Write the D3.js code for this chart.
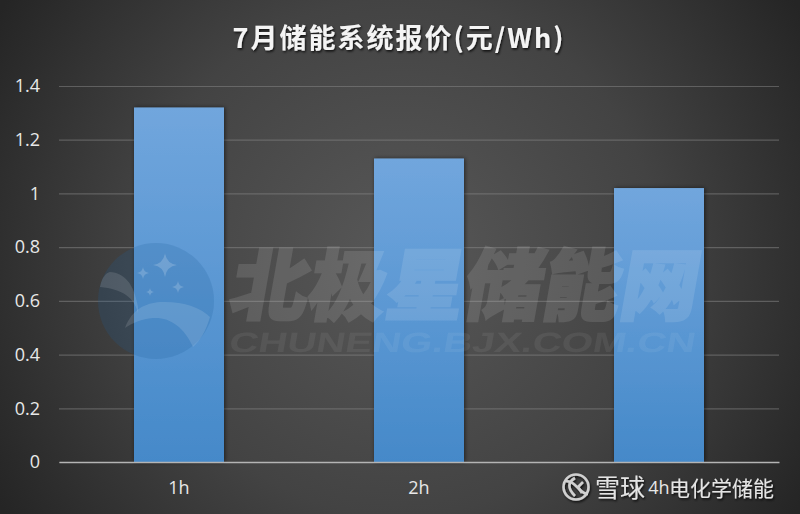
<!DOCTYPE html>
<html><head><meta charset="utf-8">
<script src="https://cdn.jsdelivr.net/npm/d3@7/dist/d3.min.js"></script>
<style>html,body{margin:0;padding:0;background:#2b2b2b}svg{display:block}text{font-family:"Noto Sans CJK SC","Noto Sans",sans-serif}</style>
</head><body><svg id="c" width="800" height="514"></svg>
<script>
const categories = ["1h","2h","4h"];
const values = [1.32,1.13,1.02];
const yTicks = [0,0.2,0.4,0.6,0.8,1,1.2,1.4];
const titleText = "7月储能系统报价(元/Wh)";
const wmMain = "北极星储能网";
const wmSub = "CHUNENG.BJX.COM.CN";
const footBrand = "雪球";
const footUser = "电化学储能";

const W=800,H=514,m={l:59,r:21,t:86,b:52};
const svg=d3.select("#c");
const defs=svg.append("defs");
const rg=defs.append("radialGradient").attr("id","bg").attr("gradientUnits","userSpaceOnUse")
 .attr("cx",400).attr("cy",257).attr("r",470);
rg.append("stop").attr("offset","0").attr("stop-color","#585858");
rg.append("stop").attr("offset","0.55").attr("stop-color","#434343");
rg.append("stop").attr("offset","1").attr("stop-color","#252525");
const bg=defs.append("linearGradient").attr("id","bar").attr("x1",0).attr("x2",0).attr("y1",0).attr("y2",1);
bg.append("stop").attr("offset","0").attr("stop-color","#71a6dd");
bg.append("stop").attr("offset","1").attr("stop-color","#4589c9");
const sh=defs.append("filter").attr("id","sh").attr("x","-20%").attr("y","-10%").attr("width","140%").attr("height","120%");
sh.append("feDropShadow").attr("dx",1).attr("dy",0).attr("stdDeviation",2).attr("flood-color","#000").attr("flood-opacity",0.55);
const ts=defs.append("filter").attr("id","ts").attr("x","-10%").attr("y","-20%").attr("width","120%").attr("height","150%");
ts.append("feDropShadow").attr("dx",1).attr("dy",1.5).attr("stdDeviation",1).attr("flood-color","#000").attr("flood-opacity",0.8);

svg.append("rect").attr("width",W).attr("height",H).attr("fill","url(#bg)");

const x=d3.scaleBand().domain(categories).range([m.l,W-m.r]).paddingInner(0.625).paddingOuter(0.3125);
const y=d3.scaleLinear().domain([0,1.4]).range([H-m.b,m.t]);

const gy=svg.append("g").attr("transform",`translate(${m.l},0)`)
 .call(d3.axisLeft(y).tickValues(yTicks).tickSize(-(W-m.l-m.r)).tickFormat(d=>String(d)));
gy.select(".domain").remove();
gy.selectAll("line").attr("stroke","#8a8a8a").attr("stroke-width",1.2).attr("stroke-opacity",0.5);
gy.selectAll("text").attr("x",-19).attr("fill","#e8e8e8").attr("font-size",18).style("font-family","'Open Sans'");

svg.append("g").selectAll("rect").data(values).join("rect")
 .attr("x",(d,i)=>x(categories[i])).attr("width",x.bandwidth())
 .attr("y",d=>y(d)).attr("height",d=>y(0)-y(d))
 .attr("fill","url(#bar)").attr("filter","url(#sh)");

const gx=svg.append("g").attr("transform",`translate(0,${H-m.b})`).call(d3.axisBottom(x).tickSize(0));
gx.select(".domain").attr("stroke","#b4b4b4").attr("stroke-width",1.6);
gx.selectAll("text").attr("y",19).attr("dy","0.71em").attr("fill","#e8e8e8").attr("font-size",18)
 .style("font-family","'Open Sans'");

svg.append("text").attr("x",399).attr("y",48).attr("text-anchor","middle").attr("fill","#f4f4f4")
 .attr("font-size",27).attr("font-weight",700).attr("letter-spacing",2).attr("filter","url(#ts)").text(titleText);

// watermark
const wm=svg.append("g").attr("pointer-events","none");
wm.append("text").attr("transform","translate(227,314) skewX(-10)")
 .attr("fill","#fff").attr("stroke","#fff").attr("stroke-width",2.2).attr("opacity",0.11).attr("font-size",78).attr("font-weight",900)
 .attr("textLength",468).attr("lengthAdjust","spacingAndGlyphs").text(wmMain);
wm.append("text").attr("transform","translate(228,352) skewX(-10)")
 .attr("fill","#fff").attr("opacity",0.06).attr("font-size",28).attr("font-weight",700)
 .style("font-family","'Liberation Sans'")
 .attr("textLength",466).attr("lengthAdjust","spacingAndGlyphs").text(wmSub);
const logo=wm.append("g").attr("transform","translate(156,301)");
logo.append("circle").attr("r",58).attr("fill","#1f5f9c").attr("fill-opacity",0.2);
const star=(cx,cy,r)=>`M${cx},${cy-r}Q${cx+r*.12},${cy-r*.12} ${cx+r},${cy}Q${cx+r*.12},${cy+r*.12} ${cx},${cy+r}Q${cx-r*.12},${cy+r*.12} ${cx-r},${cy}Q${cx-r*.12},${cy-r*.12} ${cx},${cy-r}Z`;
[[9,-36,12],[-13,-28,6],[22,-14,6],[-6,-9,4]].forEach(s=>
 logo.append("path").attr("d",star(...s)).attr("fill","#fff").attr("fill-opacity",0.18));
logo.append("path").attr("d","M-56,-14C-54,-24 -50,-28 -46,-29C-32,-28 -22,-18 -18,6L-18,12C-22,-4 -34,-12 -56,-14Z").attr("fill","#fff").attr("fill-opacity",0.12);
logo.append("path").attr("d","M-31,27C-24,8 -10,2 4,1C26,0 44,6 54,16C50,30 44,40 37,46C28,26 14,16 -3,17C-14,18 -24,22 -31,27Z").attr("fill","#fff").attr("fill-opacity",0.12);

// footer mark
const f=svg.append("g").attr("filter","url(#ts)");
const fl=f.append("g").attr("transform","translate(576,487)").attr("fill","none").attr("stroke","#d0d0d0").attr("stroke-width",2.6);
fl.append("circle").attr("r",12.5);
fl.append("path").attr("d","M-11,-6C-4,-6 -1,-2 3,2C6,5 9,7 12,7");
fl.append("path").attr("d","M-1,-9C-8,-5 -9,1 -1,9M7,-5L2,0L6,6");
f.append("text").attr("x",595).attr("y",497).attr("fill","#e4e4e4").attr("font-size",25).text(footBrand);
f.append("text").attr("x",669).attr("y",496).attr("fill","#e4e4e4").attr("font-size",21).text(footUser);
</script></body></html>
